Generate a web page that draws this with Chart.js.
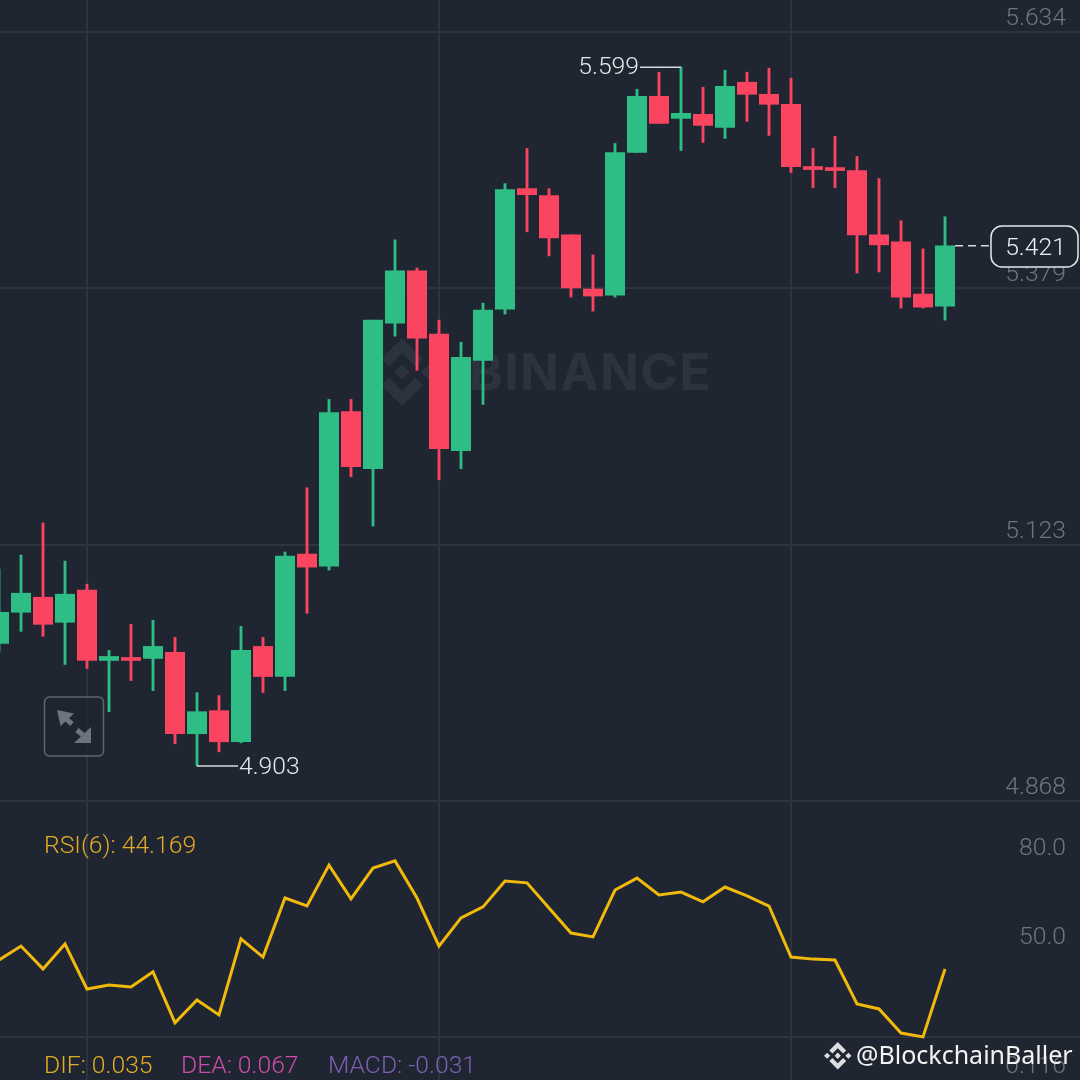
<!DOCTYPE html>
<html>
<head>
<meta charset="utf-8">
<style>
html,body{margin:0;padding:0;background:#1f2631;overflow:hidden}
canvas{display:block}
</style>
<script src="https://cdn.jsdelivr.net/npm/chart.js@4/dist/chart.umd.min.js"></script>
</head>
<body>
<canvas id="c" width="1080" height="1080"></canvas>
<script>
// ---- data ----
const candleIndex = [0,1,2,3,4,5,6,7,8,9,10,11,12,13,14,15,16,17,18,19,20,21,22,23,24,25,26,27,28,29,30,31,32,33,34,35,36,37,38,39,40,41,42,43];
const candleOpen  = [5.025,5.056,5.071,5.046,5.078,5.008,5.011,5.010,5.016,4.935,4.958,4.927,5.022,4.992,5.114,5.102,5.256,5.199,5.344,5.396,5.333,5.217,5.307,5.358,5.478,5.471,5.432,5.378,5.372,5.514,5.570,5.548,5.552,5.539,5.584,5.572,5.562,5.500,5.499,5.496,5.432,5.425,5.373,5.361];
const candleHigh  = [5.099,5.113,5.145,5.107,5.084,5.018,5.044,5.048,5.031,4.976,4.973,5.042,5.031,5.116,5.180,5.268,5.268,5.347,5.427,5.399,5.347,5.325,5.364,5.483,5.518,5.478,5.432,5.412,5.523,5.577,5.594,5.599,5.579,5.596,5.594,5.598,5.588,5.518,5.530,5.510,5.488,5.446,5.418,5.450];
const candleLow   = [5.017,5.037,5.032,5.004,5.000,4.957,4.988,4.978,4.925,4.903,4.917,4.926,4.976,4.978,5.055,5.098,5.191,5.142,5.331,5.297,5.188,5.199,5.263,5.353,5.435,5.411,5.370,5.356,5.370,5.514,5.543,5.516,5.524,5.528,5.545,5.531,5.494,5.479,5.479,5.394,5.395,5.359,5.359,5.347];
const candleClose = [5.056,5.075,5.044,5.074,5.008,5.012,5.008,5.022,4.935,4.957,4.927,5.018,4.992,5.112,5.101,5.255,5.201,5.347,5.396,5.329,5.219,5.310,5.357,5.477,5.472,5.429,5.379,5.371,5.514,5.570,5.543,5.553,5.541,5.580,5.572,5.562,5.500,5.497,5.496,5.432,5.422,5.370,5.360,5.421];
const rsiValues   = [47.2,51.9,44.2,52.6,37.4,38.8,38.1,43.2,26.0,33.7,28.7,54.3,48.2,68.1,65.4,79.2,67.8,78.2,80.6,68.1,51.9,61.4,65.1,73.8,73.2,64.7,56.3,55.0,70.8,74.8,69.1,70.1,66.8,71.8,68.8,65.4,48.2,47.5,47.2,32.4,30.7,22.6,21.3,44.169];
const priceTicks  = [5.634,5.379,5.123,4.868];
const rsiTicks    = [80,50];
const macdTicks   = [0.116];
const timeGridAt  = [4,20,36];
const highMark = {index:31, price:5.599};
const lowMark  = {index:9,  price:4.903};
const lastPrice = 5.421;
const rsiLegend = 'RSI(6): 44.169';
const macdLegend = [['DIF: 0.035','#e2ab24',44],['DEA: 0.067','#cd4eaa',181],['MACD: -0.031','#7e5fb2',328]];

// ---- styling ----
const UP='#2ebd85', DOWN='#fb4560', BG='#1f2631', GRID='#2d3440', TICK='#6f7580';
const FONT='300 24.7px Roboto';
const LOGO='M38.73 53.2l24.59-24.58 24.6 24.6 14.3-14.31L63.32 0 24.43 38.9zM0 63.31l14.3-14.31 14.31 14.31-14.31 14.3zM38.73 73.41l24.59 24.59 24.6-24.6 14.31 14.29-38.9 38.91-38.91-38.88zM98 63.31l14.3-14.31 14.31 14.3-14.31 14.32zM77.83 63.3L63.32 48.78 52.59 59.51l-1.24 1.23-2.54 2.54 14.51 14.5 14.51-14.47z';
const colors = candleIndex.map(i => candleClose[i] >= candleOpen[i] ? UP : DOWN);

function noPad(s){ s.paddingTop=0; s.paddingBottom=0; s.paddingLeft=0; s.paddingRight=0; }
function yAxis(min,max,ticks,fmt,gridOn,labelOffset){
  return {
    position:'right', min, max, display:true,
    border:{display:false},
    grid:{display:gridOn, color:GRID, lineWidth:gridOn===true?2:0, drawTicks:false, tickLength:0},
    ticks:{mirror:true, padding:-14, color:TICK, font:{family:'Roboto',size:24.7,weight:'300'}, labelOffset,
           callback:v=>fmt(v), autoSkip:false, maxRotation:0},
    afterBuildTicks:s=>{ s.ticks=ticks.map(value=>({value})); },
    afterFit:s=>{ s.width=0; noPad(s); }
  };
}

const underlay = {
  id:'underlay',
  beforeDatasetsDraw(ch){
    const c=ch.ctx; c.save();
    c.fillStyle='#2c323e';
    c.translate(368,338); c.scale(68/126.61,68/126.61); c.fill(new Path2D(LOGO));
    c.setTransform(1,0,0,1,0,0);
    c.font='700 51px Inter'; c.textBaseline='middle'; c.textAlign='left';
    c.letterSpacing='1.5px';
    c.fillText('BINANCE',469,375);
    c.letterSpacing='0px';
    c.restore();
  }
};
const overlay = {
  id:'overlay',
  afterDraw(ch){
    const c=ch.ctx, x=ch.scales.x, y=ch.scales.y;
    c.save();
    c.font=FONT; c.textBaseline='middle'; c.lineWidth=1.5;
    // high mark
    const hx=x.getPixelForValue(highMark.index), hy=y.getPixelForValue(highMark.price);
    c.strokeStyle='#d8dadd'; c.beginPath(); c.moveTo(hx,hy); c.lineTo(640,hy); c.stroke();
    c.fillStyle='#e6e8ea'; c.textAlign='right'; c.fillText(highMark.price.toFixed(3),639,hy+1);
    // low mark
    const lx=x.getPixelForValue(lowMark.index), ly=y.getPixelForValue(lowMark.price);
    c.beginPath(); c.moveTo(lx,ly); c.lineTo(238,ly); c.stroke();
    c.textAlign='left'; c.fillText(lowMark.price.toFixed(3),239,ly+2);
    // last price tag
    const py=y.getPixelForValue(lastPrice), ex=x.getPixelForValue(candleIndex.length-1)+10;
    c.setLineDash([8,5]); c.beginPath(); c.moveTo(ex,py); c.lineTo(991,py); c.stroke(); c.setLineDash([]);
    c.fillStyle=BG; c.strokeStyle='#e6e8ea';
    c.beginPath(); c.roundRect(991,226,87,41,11); c.fill(); c.stroke();
    c.fillStyle='#eceef0'; c.textAlign='center'; c.fillText(lastPrice.toFixed(3),1035.5,249);
    // legends
    c.textAlign='left'; c.fillStyle='#e2ab24'; c.fillText(rsiLegend,44,847);
    macdLegend.forEach(([t,col,px])=>{ c.fillStyle=col; c.fillText(t,px,1067); });
    // expand button
    c.fillStyle='rgba(31,38,49,.8)'; c.strokeStyle='#5e6570'; c.lineWidth=1.5;
    c.beginPath(); c.roundRect(44.5,697,59,59,5); c.fill(); c.stroke();
    c.fillStyle='#6d7480'; c.strokeStyle='#6d7480'; c.lineWidth=5;
    c.beginPath(); c.moveTo(57,710); c.lineTo(74,713.5); c.lineTo(60.5,726); c.closePath(); c.fill();
    c.beginPath(); c.moveTo(91,743); c.lineTo(74,743); c.lineTo(91,727); c.closePath(); c.fill();
    c.beginPath(); c.moveTo(65,718); c.lineTo(72,724); c.stroke();
    c.beginPath(); c.moveTo(84,736); c.lineTo(77,730); c.stroke();
    // channel mark
    c.fillStyle='#dcdde0';
    c.translate(824,1042); c.scale(27.5/126.61,27.5/126.61); c.fill(new Path2D(LOGO));
    c.setTransform(1,0,0,1,0,0);
    c.fillStyle='#f4f4f4'; c.font='400 25px "Noto Sans"'; c.textAlign='left';
    c.fillText('@BlockchainBaller',856,1057);
    c.restore();
  }
};

new Chart(document.getElementById('c'),{
  type:'bar',
  data:{
    datasets:[
      {type:'line', label:'RSI', yAxisID:'rsi', xAxisID:'x', order:1,
       data:candleIndex.map(i=>({x:i,y:rsiValues[i]})),
       borderColor:'#f0b90b', borderWidth:3, pointRadius:0, tension:0, fill:false},
      {label:'Body', yAxisID:'y', xAxisID:'x', order:2,
       data:candleIndex.map(i=>({x:i,y:[candleOpen[i],candleClose[i]]})),
       backgroundColor:colors, borderWidth:0, borderSkipped:false, barThickness:19.4, grouped:false},
      {label:'Wick', yAxisID:'y', xAxisID:'x', order:3,
       data:candleIndex.map(i=>({x:i,y:[candleLow[i],candleHigh[i]]})),
       backgroundColor:colors, borderWidth:0, borderSkipped:false, barThickness:2.2, grouped:false}
    ]
  },
  options:{
    responsive:false, animation:false, devicePixelRatio:1,
    layout:{padding:0},
    plugins:{legend:{display:false},tooltip:{enabled:false}},
    scales:{
      x:{type:'linear', min:1/22, max:1081/22, display:true, offset:false,
         border:{display:false},
         grid:{offset:false, color:GRID, lineWidth:2, drawTicks:false, tickLength:0},
         ticks:{display:false},
         afterBuildTicks:s=>{ s.ticks=timeGridAt.map(value=>({value})); },
         afterFit:s=>{ s.height=0; noPad(s); }},
      y:yAxis(4.5901,5.6659,priceTicks,v=>v.toFixed(3),true,-13.5),
      rsi:yAxis(6.76,370.76,rsiTicks,v=>v.toFixed(1),false,-14),
      macd:yAxis(0.116-0.043,0.116+1.037,macdTicks,v=>v.toFixed(3),true,30)
    }
  },
  plugins:[underlay,overlay]
});
</script>
</body>
</html>
